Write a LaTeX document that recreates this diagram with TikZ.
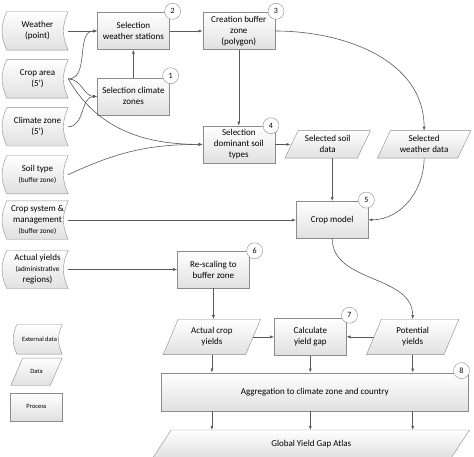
\documentclass[tikz,border=0pt]{standalone}
\usepackage{fontspec}
\setmainfont{Carlito}
\usetikzlibrary{arrows.meta,positioning,backgrounds}
\newcommand\smalltxt{\fontsize{7.2}{8.5}\selectfont}
\newcommand\legtxt{\fontsize{6.5}{8}\selectfont}

\begin{document}
\begin{tikzpicture}[font=\fontsize{9}{11}\selectfont,>={Latex[length=4pt,width=3pt]},
 proc/.style={draw=black!45,top color=white,bottom color=black!12,minimum width=72pt,minimum height=37pt,align=center,inner sep=1pt},
 data/.style={minimum height=27pt,align=center,inner sep=1pt},
 ext/.style={minimum width=61pt,minimum height=38pt,align=center,inner sep=1pt},
 shapefill/.style={draw=black!45,top color=white,bottom color=black!12},
 num/.style={circle,draw=black!45,fill=white,minimum size=16pt,inner sep=0pt,font=\fontsize{8}{9}\selectfont},
 flow/.style={->,black!65,semithick}]
\useasboundingbox (0,0) rectangle (474pt,-457pt);

% external data
\node[ext] (weather) at (37.5pt,-31pt) {Weather\\(point)};
\node[ext,below=9.5pt of weather] (croparea) {Crop area\\(5')};
\node[ext,below=9.5pt of croparea] (climzone) {Climate zone\\(5')};
\node[ext,below=9.5pt of climzone] (soiltype) {Soil type\\\smalltxt (buffer zone)};
\node[ext,below=7pt of soiltype] (cropsys) {Crop system \&\\management\\\smalltxt (buffer zone)};
\node[ext,below=11pt of cropsys] (actyield) {Actual yields\\\smalltxt (administrative\\regions)};

% processes and data
\node[proc,right=29pt of weather] (selws) {Selection\\weather stations};
\node[proc,below=28pt of selws] (selclim) {Selection climate\\zones};
\node[proc,right=33pt of selws] (buffer) {Creation buffer\\zone\\(polygon)};
\node[proc,below=76pt of buffer] (soiltypes) {Selection\\dominant soil\\types};
\node[data,right=16.5pt of soiltypes,minimum width=72pt] (soildata) {Selected soil\\data};
\node[data,right=20pt of soildata,minimum width=80pt] (wdata) {Selected\\weather data};
\node[proc,below=43pt of soildata,xshift=4.5pt] (cropmodel) {Crop model};
\node[proc,right=109pt of actyield] (rescale) {Re-scaling to\\buffer zone};
\node[data,below=31pt of rescale,xshift=-1.5pt,minimum width=82pt,minimum height=35pt] (actcrop) {Actual crop\\yields};
\node[proc,right=21pt of actcrop] (calcgap) {Calculate\\yield gap};
\node[data,right=27.5pt of calcgap,minimum width=77pt,minimum height=35pt] (potyield) {Potential\\yields};
\node[proc,below=17pt of calcgap,xshift=4.5pt,minimum width=307pt,minimum height=38pt] (aggr) {Aggregation to climate zone and country};
\node[data,below=19pt of aggr,xshift=-3.5pt,minimum width=298pt] (atlas) {Global Yield Gap Atlas};

% legend
\node[ext,below=36pt of actyield,xshift=2pt,minimum width=45pt,minimum height=29pt,font=\legtxt] (legext) {External data};
\node[data,below=4pt of legext,xshift=-3pt,minimum width=39pt,font=\legtxt] (legdata) {Data};
\node[proc,below=7pt of legdata,minimum width=52pt,minimum height=28pt,font=\legtxt] (legproc) {Process};

% step numbers
\node[num] (n1) at ([shift={(1pt,2pt)}]selclim.north east) {1};
\node[num] (n2) at ([shift={(3pt,1pt)}]selws.north east) {2};
\node[num] (n3) at ([shift={(1pt,1pt)}]buffer.north east) {3};
\node[num] (n4) at ([shift={(-4pt,0pt)}]soiltypes.north east) {4};
\node[num] (n5) at ([shift={(-2pt,1pt)}]cropmodel.north east) {5};
\node[num] (n6) at ([shift={(5pt,0pt)}]rescale.north east) {6};
\node[num] (n7) at ([shift={(3pt,3pt)}]calcgap.north east) {7};
\node[num] (n8) at ([shift={(-7pt,2pt)}]aggr.north east) {8};

\begin{scope}[on background layer]
\foreach \n in {weather,croparea,climzone,soiltype,cropsys,actyield,legext}
  \path[shapefill] (\n.north west) -- (\n.north east) to[bend right=25] (\n.south east) -- (\n.south west) to[bend left=25] (\n.north west) -- cycle;
\foreach \n/\s in {soildata/6.5pt,wdata/6.5pt,actcrop/7.5pt,potyield/7.5pt,atlas/9pt,legdata/6pt}
  \path[shapefill] ([xshift=-\s]\n.south west) -- ([xshift=-\s]\n.south east) -- ([xshift=\s]\n.north east) -- ([xshift=\s]\n.north west) -- cycle;
\end{scope}

\draw[flow] (weather) -- (selws);
\draw[flow] (croparea.east) to[out=0,in=180] (selws.west);
\draw[flow] (croparea.east) to[out=0,in=180] (selclim.west);
\draw[flow] (croparea.east) to[out=-60,in=180] (soiltypes.west);
\draw[flow] (climzone.east) to[out=0,in=180] (selclim.west);
\draw[flow] (soiltype.east) to[out=25,in=180] (soiltypes.west);
\draw[flow] (selclim) -- (selws);
\draw[flow] (selws) -- (buffer);
\draw[flow] (buffer) -- (soiltypes);
\draw[flow] (buffer.east) to[out=0,in=90] (wdata.north);
\draw[flow] (soiltypes) -- ([xshift=-1pt]soildata.west);
\draw[flow] (soildata.south -| cropmodel.north) -- (cropmodel);
\draw[flow] (wdata.south) to[out=-90,in=0] (cropmodel.east);
\draw[flow] (cropsys.east) -- (cropsys.east -| cropmodel.west);
\draw[flow] (actyield) -- (rescale);
\draw[flow] (rescale) -- (rescale |- actcrop.north);
\draw[flow] (cropmodel.south) to[out=-90,in=90] (potyield.north);
\draw[flow] (actcrop) -- (calcgap);
\draw[flow] (potyield) -- (calcgap);
\draw[flow] (actcrop.south) -- (actcrop.south |- aggr.north);
\draw[flow] (calcgap.south) -- (calcgap.south |- aggr.north);
\draw[flow] (potyield.south) -- (potyield.south |- aggr.north);
\draw[flow] (aggr.south -| actcrop.south) -- (atlas.north -| actcrop.south);
\draw[flow] (aggr.south -| calcgap.south) -- (atlas.north -| calcgap.south);
\draw[flow] (aggr.south -| potyield.south) -- (atlas.north -| potyield.south);
\end{tikzpicture}
\end{document}
